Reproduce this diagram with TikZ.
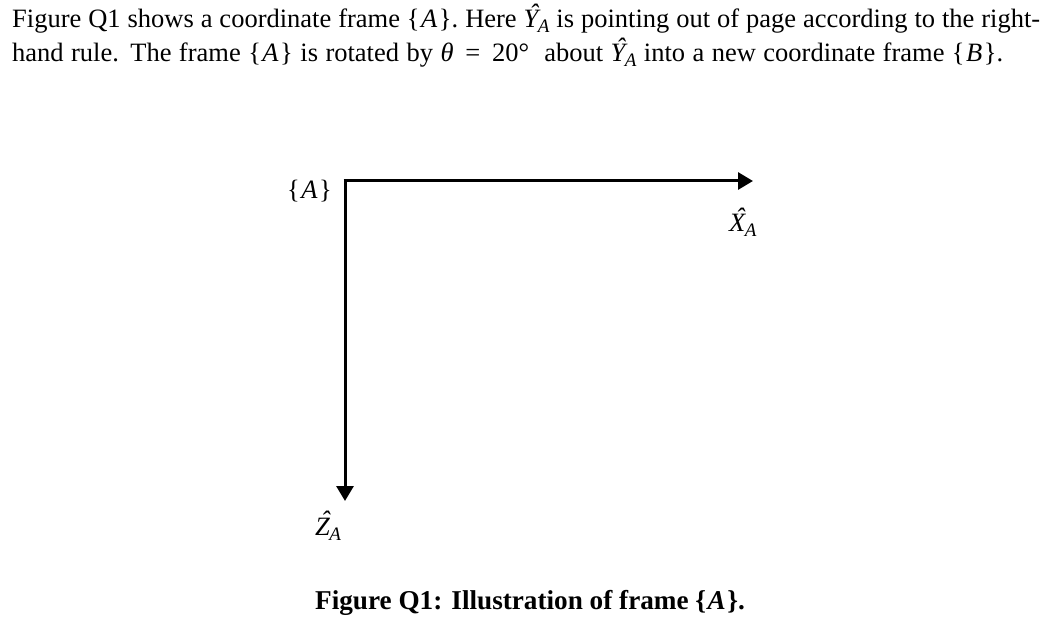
\documentclass[tikz,border=0pt]{standalone}
\usepackage{fontspec}
\setmainfont{Liberation Serif}
\usetikzlibrary{arrows.meta}
\newcommand\mysub[1]{\kern-0.5pt\raisebox{-5pt}{\fontsize{19}{19}\selectfont\itshape #1}}
\newcommand\hatl[1]{{\setbox0\hbox{\itshape #1}\rlap{\hbox to\wd0{\hss\kern0.2em\raisebox{0.2em}{\itshape ˆ}\hss}}\box0}}
\newcommand\brc[1]{\{\kern1.5pt\textit{#1}\kern1.5pt\}}
\tikzset{
  axis/.style={line width=3pt, -{Triangle[length=15pt,width=17pt]}},
  txt/.style={inner sep=0pt, anchor=base west, font=\fontsize{26.5}{34}\selectfont},
}
\begin{document}
\begin{tikzpicture}[x=1pt,y=-1pt]
\useasboundingbox (0,0) rectangle (1056,628);
\node[txt] (l1) at (12,28) {\makebox[1028pt][s]{Figure Q1 shows a coordinate frame \brc{A}. Here \hatl{Y}\mysub{A} is pointing out of page according to the right-}};
\node[txt] (l2) at (12,62) {\makebox[991pt][s]{hand rule. The frame \brc{A} is rotated by \textit{θ} \,=\, 20° \ about \hatl{Y}\mysub{A} into a new coordinate frame \brc{B}.}};
\coordinate (O) at (345,181);
\coordinate (xe) at (753,181);
\coordinate (ze) at (345,501);
\draw[axis] ([xshift=-1.5pt]O) -- (xe);
\draw[axis] (O) -- (ze);
\node[txt] (fa) at (287,199) {\brc{A}};
\node[txt] (xa) at (729,232) {\hatl{X}\mysub{A}};
\node[txt] (za) at (315,535) {\hatl{Z}\mysub{A}};
\node[txt, font=\fontsize{27.2}{34}\selectfont\bfseries] (cap) at (315,609) {Figure Q1: Illustration of frame \brc{A}.};
\end{tikzpicture}
\end{document}
